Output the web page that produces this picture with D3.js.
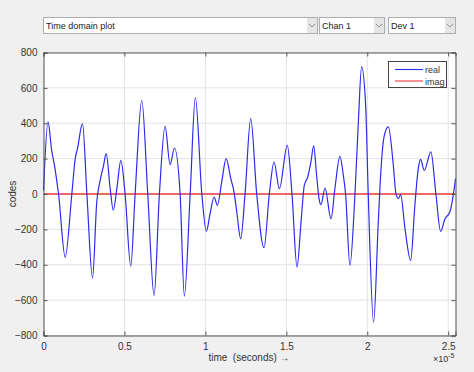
<!DOCTYPE html>
<html><head><meta charset="utf-8">
<script src="https://cdn.jsdelivr.net/npm/d3@7"></script>
<style>
html,body{margin:0;padding:0;background:#f0f0f0;}
svg{display:block;font-family:"Liberation Sans",Arial,sans-serif;}
</style></head>
<body>
<svg id="chart" width="474" height="372"></svg>
<script>
// time in units of 1e-5 s
const realT = [0,0.028,0.05,0.068,0.093,0.134,0.175,0.196,0.21,0.241,0.268,0.303,0.329,0.35,0.371,0.387,0.412,0.431,0.453,0.478,0.504,
 0.539,0.566,0.607,0.644,0.683,0.716,0.751,0.782,0.809,0.844,0.870,0.906,0.938,0.978,1.006,1.029,
 1.054,1.074,1.101,1.128,1.157,1.177,1.194,1.218,1.245,1.28,1.317,1.362,1.395,1.424,1.457,1.506,1.535,1.566,
 1.591,1.611,1.632,1.652,1.669,1.687,1.702,1.714,1.739,1.776,1.8,1.831,1.852,1.866,1.893,1.924,1.945,1.965,1.99,2.006,2.039,2.068,2.085,2.105,
 2.13,2.161,2.177,2.192,2.206,2.233,2.268,2.294,2.315,2.329,2.352,2.393,2.424,2.453,2.48,2.51,2.531,2.545];
const realV = [20,408,250,160,0,-357,0,200,257,398,0,-476,-45,77,162,228,30,-92,30,190,0,
 -408,0,530,0,-574,0,383,166,260,0,-577,0,545,0,-211,-111,
 -17,-64,68,200,87,11,-102,-253,0,426,0,-304,0,181,30,275,0,-413,
 -158,49,96,181,272,106,-26,-60,34,-140,30,213,106,0,-404,0,408,719,502,0,-725,-158,143,330,
 379,162,2,-26,-4,-196,-375,-64,143,196,134,238,0,-211,-140,-102,-8,87];
const imagT = [0, 2.545];
const imagV = [0, 0];
const xTicks = [0,0.5,1,1.5,2,2.5];
const yTicks = [-800,-600,-400,-200,0,200,400,600,800];
const legendLabels = ["real","imag"];
const dropdowns = ["Time domain plot","Chan 1","Dev 1"];

const svg = d3.select("#chart");
const L=43.5, R=455.5, T=52.5, B=335.5;
const x = d3.scaleLinear().domain([0,2.545]).range([L,R]);
const y = d3.scaleLinear().domain([-800,800]).range([B,T]);

// dropdowns
const dd = [[43,318],[319,385],[388,456]];
dd.forEach((d,i)=>{
  const g = svg.append("g");
  g.append("rect").attr("x",d[0]+0.5).attr("y",17.5).attr("width",d[1]-d[0]-1).attr("height",16)
    .attr("fill","#fff").attr("stroke","#adadad");
  g.append("rect").attr("x",d[1]-11).attr("y",18).attr("width",10).attr("height",15).attr("fill","#e5e5e5");
  g.append("path").attr("d",`M${d[1]-9},24 L${d[1]-6},27 L${d[1]-3},24`).attr("fill","none").attr("stroke","#777").attr("stroke-width",0.8);
  g.append("text").attr("x",d[0]+3).attr("y",29).attr("font-size",9).attr("fill","#222").text(dropdowns[i]);
});

// plot background
svg.append("rect").attr("x",L).attr("y",T).attr("width",R-L).attr("height",B-T).attr("fill","#fff");

// grid
svg.append("g").selectAll("line").data(xTicks).join("line")
  .attr("x1",d=>x(d)).attr("x2",d=>x(d)).attr("y1",T).attr("y2",B).attr("stroke","#e3e3e3");
svg.append("g").selectAll("line").data(yTicks).join("line")
  .attr("y1",d=>y(d)).attr("y2",d=>y(d)).attr("x1",L).attr("x2",R).attr("stroke","#e3e3e3");

// lines
const line = d3.line().x(d=>x(d[0])).y(d=>y(d[1]));
svg.append("path").datum(imagT.map((t,i)=>[t,imagV[i]])).attr("d",line)
  .attr("fill","none").attr("stroke","#ee3a3a").attr("stroke-width",1.3);
svg.append("path").datum(realT.map((t,i)=>[t,realV[i]])).attr("d",line.curve(d3.curveMonotoneX))
  .attr("fill","none").attr("stroke","#2b2bf0").attr("stroke-width",1.2);

// axes
const axCol = "#555";
const gx = svg.append("g").attr("transform",`translate(0,${B})`)
  .call(d3.axisBottom(x).tickValues(xTicks).tickSize(-4).tickPadding(7).tickFormat(d3.format("")));
const gx2 = svg.append("g").attr("transform",`translate(0,${T})`)
  .call(d3.axisTop(x).tickValues(xTicks).tickSize(-4).tickFormat(""));
const gy = svg.append("g").attr("transform",`translate(${L},0)`)
  .call(d3.axisLeft(y).tickValues(yTicks).tickSize(-4).tickPadding(6));
const gy2 = svg.append("g").attr("transform",`translate(${R},0)`)
  .call(d3.axisRight(y).tickValues(yTicks).tickSize(-4).tickFormat(""));
[gx,gx2,gy,gy2].forEach(g=>{
  g.select(".domain").attr("stroke",axCol);
  g.selectAll(".tick line").attr("stroke",axCol);
  g.selectAll("text").attr("fill","#333").attr("font-size",10).attr("font-family","Liberation Sans, Arial, sans-serif");
});

// labels
svg.append("text").attr("x",249).attr("y",361).attr("text-anchor","middle").attr("font-size",10).attr("fill","#333")
  .attr("xml:space","preserve").text("time  (seconds) \u2192");
svg.append("text").attr("transform","translate(16,194) rotate(-90)").attr("text-anchor","middle")
  .attr("font-size",10).attr("fill","#333").text("codes");
const ex = svg.append("text").attr("x",433).attr("y",362).attr("font-size",9).attr("fill","#333");
ex.append("tspan").text("\u00d710");
ex.append("tspan").attr("dy",-4).attr("font-size",7).text("-5");

// legend
const lg = svg.append("g");
lg.append("rect").attr("x",388.5).attr("y",61.5).attr("width",58).attr("height",26).attr("fill","#fff").attr("stroke","#444");
const lcols = ["#2b2bf0","#ee3a3a"];
legendLabels.forEach((lab,i)=>{
  const yy = 69.5 + i*11.5;
  lg.append("line").attr("x1",395).attr("x2",423).attr("y1",yy).attr("y2",yy).attr("stroke",lcols[i]).attr("stroke-width",1.1);
  lg.append("text").attr("x",425).attr("y",yy+3.5).attr("font-size",9).attr("fill","#333").text(lab);
});
</script>
</body></html>
